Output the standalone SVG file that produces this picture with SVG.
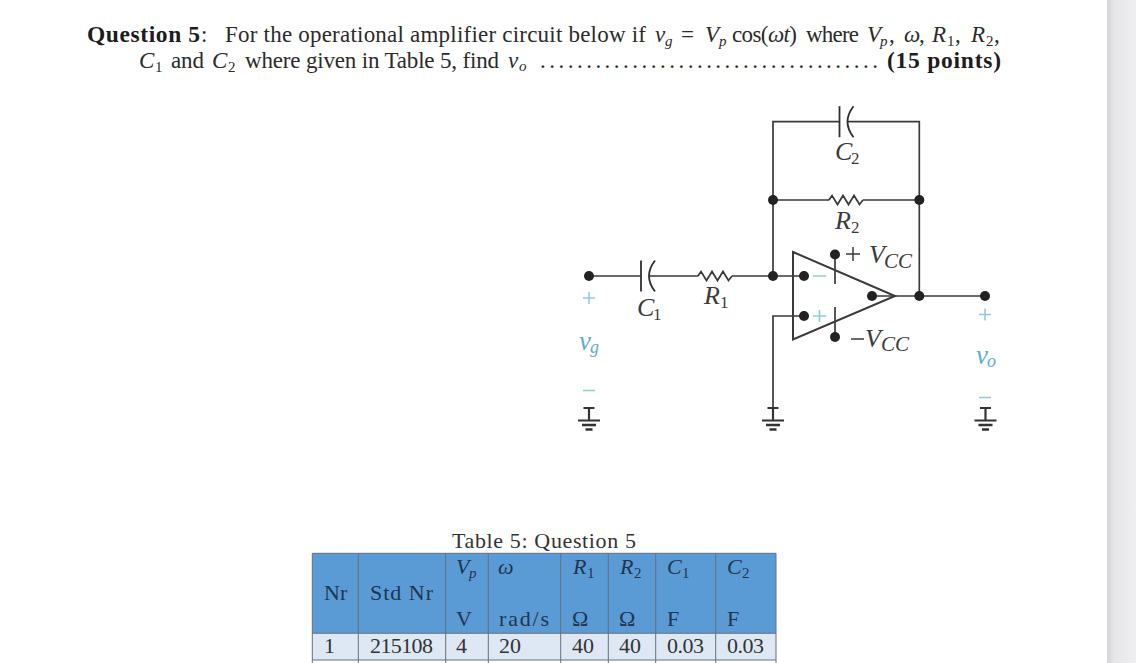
<svg xmlns="http://www.w3.org/2000/svg" width="1136" height="663" viewBox="0 0 1136 663">
<defs>
<linearGradient id="edge" x1="0" x2="1" y1="0" y2="0"><stop offset="0" stop-color="#d4d4d6"/><stop offset="0.25" stop-color="#e6e6e9"/><stop offset="1" stop-color="#eeeef0"/></linearGradient>
<g id="gnd"><path class="g" d="M0 -10V2M-5.500 -10H5.500M-11 2.500H11"/><path class="g" style="stroke-width:2.600" d="M-7 7H7M-3.500 11.500H3.500"/></g>
<path id="res" class="w" d="M0 0L3 -4.500L8.500 4.500L14 -4.500L19.500 4.500L25 -4.500L30.500 4.500L34 0"/>
<g id="cap"><path class="p" d="M0 -15.500V15.500"/><path class="p" d="M14 -15.500Q2 0 14 15.500"/></g>
</defs>
<style>
text{font-family:"Liberation Serif","Times New Roman",serif;fill:#2b2b2b}
.t{font-size:23px}
.b{font-size:23.500px;font-weight:700;fill:#1d1d1d}
.i{font-style:italic}
.s{font-size:15px}
.w{fill:none;stroke:#3a3a3a;stroke-width:1.700}
.g{fill:none;stroke:#333;stroke-width:2.200}
.p{fill:none;stroke:#2f2f2f;stroke-width:1.800}
.d{fill:#222}
.c{font-size:26px;font-style:italic;fill:#3b3b3b}
.cs{font-size:17px;fill:#3b3b3b}
.v{font-size:27px;font-style:italic;fill:#5cadcf}
.vs{font-size:18px;font-style:italic;fill:#5cadcf}
.cc{font-size:21px;font-style:italic;fill:#3b3b3b}
.th{font-size:22px;fill:#1f3550}
.td{font-size:22px;fill:#333}
.ts{font-size:15px;fill:#1f3550}
.cell{stroke:#66707c;stroke-width:1}
.m{stroke:#8fcbe0;stroke-width:1.600;fill:none}
</style>
<rect width="1136" height="663" fill="#fff"/>
<rect x="1107" y="0" width="29" height="663" fill="url(#edge)"/>

<g id="question">
<text class="b" x="87" y="42" textLength="113" lengthAdjust="spacing">Question 5</text>
<text class="t" x="201" y="42">:</text>
<text class="t" x="225" y="42" textLength="421" lengthAdjust="spacing">For the operational amplifier circuit below if</text>
<text class="t i" x="655" y="42">v</text><text class="s i" x="665" y="46">g</text>
<text class="t" x="681" y="42">=</text>
<text class="t i" x="705" y="42">V</text><text class="s i" x="719" y="46">p</text>
<text class="t" x="732" y="42" textLength="65" lengthAdjust="spacing">cos(<tspan class="i">ωt</tspan>)</text>
<text class="t" x="806" y="42" textLength="53" lengthAdjust="spacing">where</text>
<text class="t i" x="867" y="42">V</text><text class="s i" x="880" y="46">p</text><text class="t" x="889" y="42">,</text>
<text class="t i" x="904" y="42">ω</text><text class="t" x="919" y="42">,</text>
<text class="t i" x="932" y="42">R</text><text class="s" x="947" y="46">1</text><text class="t" x="955" y="42">,</text>
<text class="t i" x="971" y="42">R</text><text class="s" x="986" y="46">2</text><text class="t" x="994" y="42">,</text>
<text class="t i" x="139" y="68">C</text><text class="s" x="155" y="72">1</text>
<text class="t" x="171" y="68" textLength="33" lengthAdjust="spacing">and</text>
<text class="t i" x="212" y="68">C</text><text class="s" x="228" y="72">2</text>
<text class="t" x="245" y="68" textLength="254" lengthAdjust="spacing">where given in Table 5, find</text>
<text class="t i" x="508" y="68">v</text><text class="s i" x="519" y="71">o</text>
<text class="t" x="540" y="68" textLength="338" lengthAdjust="spacing">.....................................</text>
<text class="b" x="887" y="68" textLength="114" lengthAdjust="spacing">(15 points)</text>
</g>

<g id="connectors">
<path class="w" d="M589 276H641M649 276H698M732 276H804"/>
<path class="w" d="M773 276V121.700H840M848 121.700H919.300V296"/>
<path class="w" d="M773 200H829M863 200H919.300"/>
<path class="w" d="M872 296H985"/>
<path class="w" d="M804 316H773V408"/>
<path class="w" d="M835 254V284M835 307V337"/>
</g>

<g id="opamp">
<path d="M793 252L895 296L793 339.500Z" fill="none" stroke="#3a3a3a" stroke-width="2"/>
<path class="m" d="M813 276H826M813 316H826M819.500 310V322"/>
<circle class="d" cx="804" cy="276" r="5"/><circle class="d" cx="804" cy="316" r="5"/><circle class="d" cx="872" cy="296" r="5"/>
</g>
<g id="vcc-pos"><circle class="d" cx="835" cy="254.500" r="5"/>
<path d="M846 254H860M853 247V261" stroke="#3b3b3b" stroke-width="1.500"/>
<text class="c" x="869" y="263">V</text><text class="cc" x="884" y="268">CC</text></g>
<g id="vcc-neg"><circle class="d" cx="835" cy="337" r="5"/>
<path d="M851 339H864" stroke="#3b3b3b" stroke-width="1.500"/>
<text class="c" x="865" y="347">V</text><text class="cc" x="881" y="351">CC</text></g>

<g id="c2"><use href="#cap" x="839.500" y="121.700"/><text class="c" x="835" y="160">C</text><text class="cs" x="851" y="164">2</text></g>
<g id="r2"><use href="#res" x="829" y="200"/><text class="c" x="835" y="229">R</text><text class="cs" x="851" y="233">2</text></g>
<g id="c1"><use href="#cap" x="641" y="276"/><text class="c" x="637" y="316">C</text><text class="cs" x="653" y="320">1</text></g>
<g id="r1"><use href="#res" x="698" y="276"/><text class="c" x="704" y="304">R</text><text class="cs" x="720" y="308">1</text></g>
<g id="n-fb"><circle class="d" cx="773" cy="200" r="5"/></g>
<g id="n-fb2"><circle class="d" cx="919.300" cy="200" r="5"/></g>
<g id="n-in"><circle class="d" cx="773" cy="276" r="5"/></g>
<g id="n-out"><circle class="d" cx="919.300" cy="296" r="5"/></g>
<g id="vg"><circle class="d" cx="589" cy="276" r="5"/>
<path class="m" d="M583 298H595M589 292V304M583 390.500H595"/>
<text class="v" x="579" y="350">v</text><text class="vs" x="590" y="353">g</text>
<use href="#gnd" x="589" y="418"/></g>
<g id="gnd-mid"><use href="#gnd" x="773" y="418"/></g>
<g id="vo"><circle class="d" cx="985" cy="296" r="5"/>
<path class="m" d="M979 314.500H991M985 308.500V320.500M979 397.500H991"/>
<text class="v" x="976" y="364">v</text><text class="vs" x="987" y="367">o</text>
<use href="#gnd" x="985.500" y="418"/></g>

<g id="table">
<text class="td" x="452" y="548" textLength="184" lengthAdjust="spacing">Table 5: Question 5</text>
<rect x="312.300" y="553.300" width="463.700" height="80" fill="#5b9bd5"/>
<rect x="312.300" y="633.300" width="463.700" height="26.700" fill="#dee8f5"/>
<path class="cell" fill="none" d="M312.300 553.300H776M312.300 633.300H776M312.300 660H776M312.300 553.300V663M358.300 553.300V663M445.700 553.300V663M488.300 553.300V663M560.700 553.300V663M608.300 553.300V663M655.700 553.300V663M715.700 553.300V663M776 553.300V663"/>
<text class="th" x="324" y="600">Nr</text>
<text class="th" x="370" y="600" textLength="63" lengthAdjust="spacing">Std Nr</text>
<text class="th i" x="456" y="574">V</text><text class="ts i" x="469" y="578">p</text>
<text class="th i" x="498" y="574">ω</text>
<text class="th i" x="573" y="574">R</text><text class="ts" x="587" y="578">1</text>
<text class="th i" x="620" y="574">R</text><text class="ts" x="634" y="578">2</text>
<text class="th i" x="667" y="574">C</text><text class="ts" x="682" y="578">1</text>
<text class="th i" x="727" y="574">C</text><text class="ts" x="742" y="578">2</text>
<text class="th" x="456" y="626">V</text>
<text class="th" x="499" y="626" textLength="50" lengthAdjust="spacing">rad/s</text>
<text class="th" x="572" y="626">Ω</text>
<text class="th" x="619" y="626">Ω</text>
<text class="th" x="667" y="626">F</text>
<text class="th" x="727" y="626">F</text>
<text class="td" x="324" y="653">1</text>
<text class="td" x="370" y="653" textLength="63" lengthAdjust="spacing">215108</text>
<text class="td" x="456" y="653">4</text>
<text class="td" x="499" y="653">20</text>
<text class="td" x="572" y="653">40</text>
<text class="td" x="619" y="653">40</text>
<text class="td" x="667" y="653" textLength="37" lengthAdjust="spacing">0.03</text>
<text class="td" x="727" y="653" textLength="37" lengthAdjust="spacing">0.03</text>
</g>
</svg>
